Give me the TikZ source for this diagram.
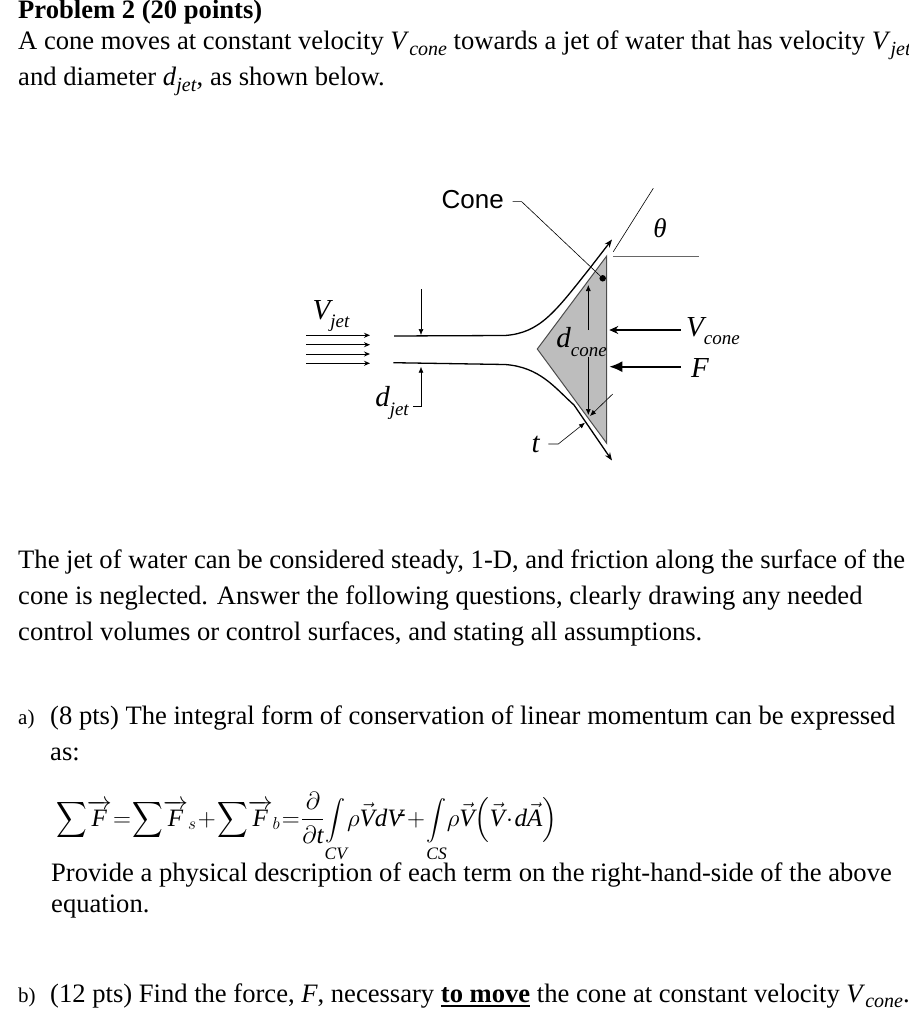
\documentclass[tikz,border=0pt]{standalone}
\usepackage{amsmath}
\usepackage{amssymb}
\usepackage{fontspec}
\setmainfont{Liberation Serif}
\newfontfamily\conefont{Liberation Sans}
\usetikzlibrary{arrows,arrows.meta,positioning}
\tikzset{textline/.style={anchor=base west,inner sep=0,font=\fontsize{26.6}{30}\selectfont},
    smalltag/.style={anchor=base west,inner sep=0,font=\fontsize{21}{24}\selectfont},
    figlabel/.style={inner sep=0,font=\fontsize{29}{32}\selectfont\itshape},
    streamline/.style={line width=1.3pt,-{Stealth[length=8pt,width=6pt]}},
    dimline/.style={line width=0.6pt,-{Latex[length=6pt,width=5pt]}},
    jetarrow/.style={line width=0.9pt,-{Stealth[length=6pt,width=5pt]}},
    coneedge/.style={draw=black!70,line width=1pt,fill=black!26},
    smallnode/.style={circle,fill,inner sep=0,minimum size=6.5pt}
}
% inline and figure subscripts
\newcommand{\inlinesub}[2]{\textit{#1}\raisebox{-.2em}{\fontsize{20}{22}\selectfont\textit{#2}}}
\newcommand{\figsub}[2]{#1\raisebox{-.3em}{\fontsize{19}{22}\selectfont #2}}
\newcommand{\vecbar}[1]{\overrightarrow{\textit{#1}}}
\newcommand{\eqsum}{\mathop{\scalebox{0.85}[1]{$\displaystyle\sum$}}}
\newcommand{\eqint}[1]{\mathop{\scalebox{0.8}{$\displaystyle\int$}}\limits_{\textit{#1}}}
\begin{document}
\begin{tikzpicture}[x=1pt,y=-1pt]
\useasboundingbox (0,0) rectangle (908,1024);

%% text above the figure
\node (title) at (18,19) [textline,font=\fontsize{26.6}{30}\selectfont\bfseries] {Problem 2 (20 points)};
\node (intro1) at (18,50) [textline] {A cone moves at constant velocity \inlinesub{V}{cone} towards a jet of water that has velocity \inlinesub{V}{jet},};
\node (intro2) at (18,86) [textline] {and diameter \inlinesub{d}{jet}, as shown below.};

%% figure
% cone and streamlines

\coordinate (coneTip) at (537.3,349);
\coordinate (coneTop) at (606.7,256);
\coordinate (coneBot) at (606.7,443.3);
\draw [coneedge] (coneTip) -- (coneTop) -- (coneBot) -- cycle;

\coordinate (upStart) at (394,336);
\coordinate (upEnd) at (612,239.5);
\coordinate (lowStart) at (393.3,362.7);
\coordinate (lowEnd) at (612,460.5);
\draw [streamline] (upStart) -- (505,335.5) .. controls (540,333) and (555,312) .. (590,268) -- (upEnd);
\draw [streamline] (lowStart) -- (505,364.5) .. controls (540,367) and (555,388) .. (574,405) -- (lowEnd);

% incoming jet

\foreach \y [count=\i] in {335.3,344.7,354,363.3}
{
    \coordinate (jetA\i) at (306,\y);
    \coordinate (jetB\i) at (370,\y);
    \draw [jetarrow] (jetA\i) -- (jetB\i);
}
\node (vJet) at (331,316) [figlabel] {\figsub{V}{jet}};

% jet diameter

\coordinate (djetA) at (421,289.3);
\coordinate (djetB) at (421,335);
\coordinate (djetC) at (421,366.7);
\coordinate (djetD) at (421,406.7);
\coordinate (djetE) at (413.3,406.7);
\node (dJet) at (392,403) [figlabel] {\figsub{d}{jet}};
\draw [dimline] (djetA) -- (djetB);
\draw [dimline] (djetE) -- (djetD) -- (djetC);

% cone leader

\node (coneLabel) at (472.7,199.3) [inner sep=0,font=\fontsize{26}{30}\selectfont\conefont] {Cone};
\node (coneDot) at (602.7,278.3) [smallnode] {};
\coordinate (coneStub) at (512.7,201.7);
\coordinate (coneBend) at (521.7,201.7);
\draw [line width=0.6pt] (coneStub) -- (coneBend) -- (coneDot);

% angle

\coordinate (angA) at (653.3,188.3);
\coordinate (angB) at (613.3,251.7);
\coordinate (angC) at (613.3,256.7);
\coordinate (angD) at (699.3,256.7);
\draw [line width=0.6pt] (angA) -- (angB);
\draw [line width=0.9pt,black!60] (angC) -- (angD);
\node (thetaLabel) at (660,228) [figlabel,font=\fontsize{27}{30}\selectfont\itshape] {θ};

% cone diameter

\node (dCone) at (581.5,342) [figlabel] {\figsub{d}{cone}};
\coordinate (dconeTop) at (588.3,285);
\coordinate (dconeA) at (588.3,330);
\coordinate (dconeB) at (588.3,356.7);
\coordinate (dconeBot) at (588.3,415);
\draw [dimline] (dconeA) -- (dconeTop);
\draw [dimline] (dconeB) -- (dconeBot);

% velocity and force

\node (vCone) at (713,331) [figlabel] {\figsub{V}{cone}};
\node (fLabel) at (700,368) [figlabel] {F};
\coordinate (vConeStart) at (680.7,330);
\coordinate (vConeEnd) at (609.3,330);
\coordinate (fStart) at (680.7,366.7);
\coordinate (fEnd) at (609.3,366.7);
\draw [line width=1.2pt,-{Stealth[length=9pt,width=8pt]}] (vConeStart) -- (vConeEnd);
\draw [line width=1.8pt,-{Latex[length=13pt,width=11pt]}] (fStart) -- (fEnd);

% thickness

\node (tLabel) at (535.7,444) [figlabel] {t};
\coordinate (tStub) at (548.3,444);
\coordinate (tBend) at (558.3,444);
\coordinate (tEnd) at (585,422.7);
\coordinate (tOut) at (612.7,394);
\coordinate (tIn) at (590,416);
\draw [dimline] (tStub) -- (tBend) -- (tEnd);
\draw [dimline] (tOut) -- (tIn);

%% text below the figure
\node (body1) at (18,568) [textline] {The jet of water can be considered steady, 1-D, and friction along the surface of the};
\node (body2) at (18,604) [textline] {cone is neglected. Answer the following questions, clearly drawing any needed};
\node (body3) at (18,640) [textline] {control volumes or control surfaces, and stating all assumptions.};

\node (partA) at (18,724) [smalltag] {a)};
\node (partA1) at (50,724) [textline] {(8 pts) The integral form of conservation of linear momentum can be expressed};
\node (partA2) at (50,760) [textline] {as:};

\node (momEq) at (56,826) [textline,font=\fontsize{25}{28}\selectfont] {\thickmuskip=1mu\medmuskip=1mu\thinmuskip=0mu$\displaystyle
    \eqsum\vecbar{F}=\eqsum\vecbar{F}_{\!s}+\eqsum\vecbar{F}_{\!b}
    =\frac{\partial}{\partial \textit{t}}\,\eqint{CV}\rho\vec{\textit{V}}\textit{d}\rlap{\textit{V}}\kern.4em\raisebox{.2em}{-}
    +\eqint{CS}\rho\vec{\textit{V}}\Bigl(\vec{\textit{V}}\cdot \textit{d}\vec{\textit{A}}\Bigr)$};

\node (partA3) at (51,881) [textline] {Provide a physical description of each term on the right-hand-side of the above};
\node (partA4) at (51,912) [textline] {equation.};

\node (partB) at (18,1002) [smalltag] {b)};
\node (partB1) at (50,1002) [textline] {(12 pts) Find the force, \textit{F}, necessary \underline{\textbf{to move}} the cone at constant velocity \inlinesub{V}{cone}.};

\end{tikzpicture}
\end{document}
